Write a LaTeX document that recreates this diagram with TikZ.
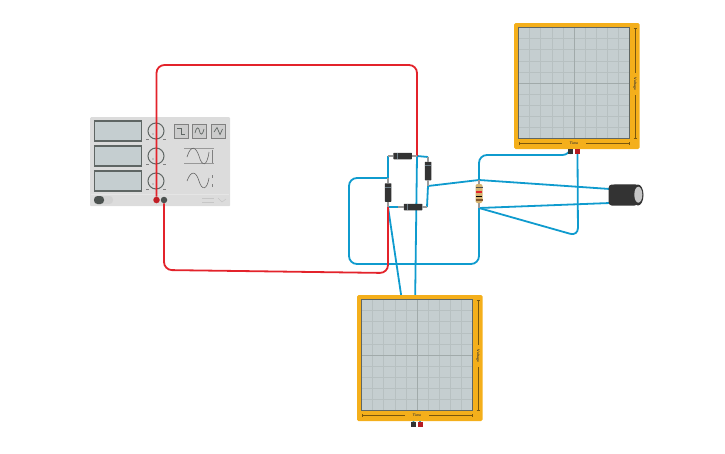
\documentclass[tikz,border=0pt]{standalone}
\usepackage{tikz}
\usetikzlibrary{calc, positioning, shapes.geometric}
\definecolor{wireblue}{HTML}{0F9BCE}
\definecolor{wirered}{HTML}{E3232B}
\definecolor{scopeorange}{HTML}{F4AF1B}
\definecolor{screenfill}{HTML}{C5CED0}
\definecolor{screenedge}{HTML}{5F6664}
\definecolor{panelgrey}{HTML}{DCDCDC}
\definecolor{partdark}{HTML}{333333}
\definecolor{bandgrey}{HTML}{6F808A}
\definecolor{leadgrey}{HTML}{9A9A9A}
\definecolor{restan}{HTML}{D6B36F}
\tikzset{
  bluewire/.style={line width=1.8pt, color=wireblue, rounded corners=8pt},
  redwire/.style={line width=1.8pt, color=wirered, rounded corners=8pt},
  lead/.style={line width=1.2pt, color=leadgrey},
  scopebody/.style={
    rectangle, rounded corners=1.5pt, anchor=north west, inner sep=0pt, outer sep=0pt,
    minimum width=125.5pt, minimum height=126pt, fill=scopeorange
  },
  scopescreen/.style={
    rectangle, anchor=north west, inner sep=0pt, outer sep=0pt, minimum width=111pt,
    minimum height=111pt, draw=screenedge, line width=1.6pt, fill=screenfill
  },
  probe/.style={
    rectangle, inner sep=0pt, minimum width=4pt, minimum height=5pt
  },
  display/.style={
    rectangle, inner sep=0pt, minimum width=47pt, minimum height=20pt,
    draw=screenedge, line width=1.5pt, fill=screenfill
  },
  knob/.style={
    circle, inner sep=0pt, minimum size=16pt, draw=screenedge, line width=1pt,
    fill=panelgrey
  },
  wavebutton/.style={
    rectangle, inner sep=0pt, minimum size=14pt, draw=gray, line width=0.7pt,
    fill=gray!40
  },
  socket/.style={circle, inner sep=0pt, minimum size=6.5pt},
  diodeh/.style={
    rectangle, rounded corners=0.5pt, inner sep=0pt, minimum width=18.5pt,
    minimum height=6.5pt, fill=partdark,
    path picture={\draw[bandgrey, line width=1pt]
      ([xshift=4pt]path picture bounding box.north west)
      -- ([xshift=4pt]path picture bounding box.south west);}
  },
  diodev/.style={
    rectangle, rounded corners=0.5pt, inner sep=0pt, minimum width=6.5pt,
    minimum height=18.5pt, fill=partdark,
    path picture={\draw[bandgrey, line width=1pt]
      ([yshift=-4pt]path picture bounding box.north west)
      -- ([yshift=-4pt]path picture bounding box.north east);}
  },
  tinytext/.style={font=\sffamily\bfseries\fontsize{3.6}{3.6}\selectfont, text=black!80, inner sep=0pt},
  scaleline/.style={line width=0.4pt, color=black!50!scopeorange}
}
\begin{document}
\begin{tikzpicture}[x=1pt, y=-1pt]
  \useasboundingbox (0,0) rectangle (725,453);

  % Junctions
  \coordinate (loopL) at (388,178);
  \coordinate (cornerTL) at (388,156);
  \coordinate (cornerTR) at (417,156);
  \coordinate (rightTop) at (428,157);
  \coordinate (rightBot) at (428,186);
  \coordinate (cornerBR) at (427,207);
  \coordinate (cornerBL) at (388,207);
  \coordinate (resTop) at (479,180);
  \coordinate (resBot) at (479,208);

  % Parts the wires end on
  \node[probe] (scopeTneg) at (570.5,151.5) {};
  \node[probe] (scopeTpos) at (577.5,151.5) {};
  \node[probe] (scopeBneg) at (413.5,424.5) {};
  \node[probe] (scopeBpos) at (420.5,424.5) {};
  \coordinate (capTop) at (610,189);
  \coordinate (capBot) at (610,203);

  % Blue wires
  \draw[bluewire] (cornerTL) -- (loopL);
  \draw[bluewire] (loopL) -- (349,178) -- (349,264) -- (479,264) -- (resBot);
  \draw[bluewire] (cornerBL) -- (398,207);
  \draw[bluewire] (cornerTR) -- (rightTop);
  \draw[bluewire] (rightBot) -- (cornerBR);
  \draw[bluewire] (rightBot) -- (resTop);
  \draw[bluewire] (resTop) -- (capTop);
  \draw[bluewire] (resBot) -- (capBot);
  \draw[bluewire] (resBot) -- (578,236) -- (scopeTpos.south);
  \draw[bluewire] (scopeTneg.south) -- (570.5,155) -- (479,155) -- (resTop);
  \draw[bluewire] (cornerBL) -- ([yshift=2pt]scopeBpos.south);
  \draw[bluewire] (cornerTR) -- ([yshift=2pt]scopeBneg.south);

  % Generator
  \node[rectangle, rounded corners=1pt, anchor=north west, inner sep=0pt, minimum width=140pt,
    minimum height=89pt, fill=panelgrey] (generator) at (90,117) {};
  \draw[white!90!black, line width=0.5pt] (91,194) -- (229,194);
  \foreach \row/\ypos in {1/131, 2/156, 3/181} {
    \node[display] (display\row) at (118,\ypos) {};
    \node[knob] (knob\row) at (156,\ypos) {};
    \fill[screenedge] ($(knob\row)+(-3,3)$) circle (0.6pt);
    \draw[gray, line width=0.8pt] ($(knob\row)+(-10,8.5)$) -- ($(knob\row)+(-7,8.5)$);
    \draw[gray, line width=0.8pt] ($(knob\row)+(7,8.5)$) -- ($(knob\row)+(10,8.5)$);
  }
  \foreach \btn/\xpos in {1/181, 2/199.5, 3/218} {
    \node[wavebutton] (wave\btn) at (\xpos,131) {};
  }
  \draw[screenedge, line width=0.7pt] (177,128) -- (181,128) -- (181,134) -- (185,134);
  \draw[screenedge, line width=0.7pt] (195,133) .. controls (197,125) and (199,128) .. (199.5,131)
    .. controls (200,134) and (202,137) .. (204,129);
  \draw[screenedge, line width=0.7pt] (214,132) -- (217,127.5) -- (220,134.5) -- (222.5,129);
  % Sine sketches
  \draw[gray!80, line width=0.4pt] (184,148.5) -- (214,148.5) (184,163.5) -- (214,163.5);
  \draw[gray, line width=0.5pt] (212,149.5) -- (212,162.5);
  \draw[gray!80!black, line width=0.6pt] (187,157) .. controls (191,144) and (196,147) .. (199,156)
    .. controls (202,167) and (207,167) .. (209,152);
  \draw[gray!80!black, line width=0.6pt] (187,181) .. controls (191,170) and (196,171) .. (199,181)
    .. controls (202,191) and (207,190) .. (209,178);
  \draw[gray, line width=0.5pt] (212,175) -- (212,178) (212,184) -- (212,187);
  % Switch
  \node[rectangle, rounded corners=3.5pt, inner sep=0pt, minimum width=19pt, minimum height=8pt,
    fill=gray!35] (switchbase) at (103.5,200) {};
  \node[rectangle, rounded corners=3.5pt, inner sep=0pt, minimum width=10pt, minimum height=8pt,
    fill=screenedge!80!black] (switchknob) at (99,200) {};
  \draw[gray!45, line width=0.5pt] (202,198) -- (214,198) (202,202) -- (214,202);
  \draw[gray!45, line width=0.5pt] (218,198) -- (222,202) -- (226,199);
  % Sockets
  \node[socket, fill=wirered!85!black] (genPlus) at (156.5,200) {};
  \node[socket, fill=screenedge!80!black] (genMinus) at (164,200) {};

  % Red wires
  \draw[redwire] (genPlus) -- (156.5,65) -- (417,65) -- (cornerTR);
  \draw[redwire] (genMinus) -- (164,270) -- (388,273) -- (cornerBL);

  % Oscilloscopes
  \foreach \sname/\sx/\sy in {scopeT/514/23, scopeB/357/295} {
    \node[scopebody] (\sname) at (\sx,\sy) {};
    \node[scopescreen] (\sname screen) at (\sx+4.5,\sy+4.5) {};
    \foreach \k in {1,...,9} {
      \draw[screenedge!14!screenfill, line width=0.5pt] (\sx+4.5+\k*11.1,\sy+5) -- (\sx+4.5+\k*11.1,\sy+115);
      \draw[screenedge!14!screenfill, line width=0.5pt] (\sx+5,\sy+4.5+\k*11.1) -- (\sx+115,\sy+4.5+\k*11.1);
    }
    \draw[screenedge!35!screenfill, line width=0.6pt] (\sx+60,\sy+5) -- (\sx+60,\sy+115);
    \draw[screenedge!35!screenfill, line width=0.6pt] (\sx+5,\sy+60) -- (\sx+115,\sy+60);
    % Scale marks
    \node[tinytext] (\sname time) at (\sx+60,\sy+120.5) {Time};
    \node[tinytext, rotate=-90] (\sname volt) at (\sx+121,\sy+61) {Voltage};
    \draw[scaleline] (\sx+5,\sy+120.5) -- (\sx+48,\sy+120.5) (\sx+72,\sy+120.5) -- (\sx+115,\sy+120.5);
    \draw[scaleline] (\sx+121,\sy+5) -- (\sx+121,\sy+50) (\sx+121,\sy+72) -- (\sx+121,\sy+115);
    \draw[scaleline] (\sx+5,\sy+119) -- (\sx+5,\sy+122) (\sx+115,\sy+119) -- (\sx+115,\sy+122);
    \draw[scaleline] (\sx+119.5,\sy+5) -- (\sx+122.5,\sy+5) (\sx+119.5,\sy+115) -- (\sx+122.5,\sy+115);
  }
  \foreach \pname/\pcol in {scopeTneg/partdark, scopeTpos/wirered!80!black, scopeBneg/partdark, scopeBpos/wirered!80!black} {
    \fill[\pcol] (\pname.north west) rectangle (\pname.south east);
  }

  % Diodes
  \node[diodeh] (diodeT) at (402.5,156) {};
  \node[diodev] (diodeR) at (428,171) {};
  \node[diodeh] (diodeB) at (413,207) {};
  \node[diodev] (diodeL) at (388,192.5) {};
  \draw[lead] (cornerTL) -- (diodeT.west);
  \draw[lead] (diodeT.east) -- (cornerTR);
  \draw[lead] (rightTop) -- (diodeR.north);
  \draw[lead] (diodeR.south) -- (rightBot);
  \draw[lead] (cornerBR) -- (diodeB.east);
  \draw[lead] (diodeB.west) -- (398,207);
  \draw[lead] (loopL) -- (diodeL.north);
  \draw[lead] (diodeL.south) -- (cornerBL);

  % Resistor
  \node[rectangle, rounded corners=2pt, inner sep=0pt, minimum width=7pt, minimum height=19pt,
    fill=restan] (resistor) at (479,193.5) {};
  \draw[lead] (resTop) -- (resistor.north);
  \draw[lead] (resistor.south) -- (resBot);
  \draw[black!70, line width=0.7pt] (475.5,187.5) -- (482.5,187.5);
  \draw[wirered, line width=1.2pt] (476,192) -- (482,192);
  \draw[black, line width=1.4pt] (476,196.5) -- (482,196.5);
  \draw[brown!70!black, line width=1.2pt] (475.5,200) -- (482.5,200);

  % Capacitor
  \node[rectangle, rounded corners=3pt, anchor=west, inner sep=0pt, minimum width=26pt, minimum height=19pt,
    fill=gray!80] (capTopEdge) at (612,193.5) {};
  \node[rectangle, rounded corners=3pt, anchor=west, inner sep=0pt, minimum width=29pt, minimum height=21pt,
    fill=partdark] (capacitor) at (608.5,195) {};
  \node[ellipse, inner sep=0pt, minimum width=11pt, minimum height=21pt, fill=partdark] (capEnd) at (638,195) {};
  \node[ellipse, inner sep=0pt, minimum width=8pt, minimum height=16pt, fill=gray!45] (capFace) at (638.3,194.7) {};
\end{tikzpicture}
\end{document}
